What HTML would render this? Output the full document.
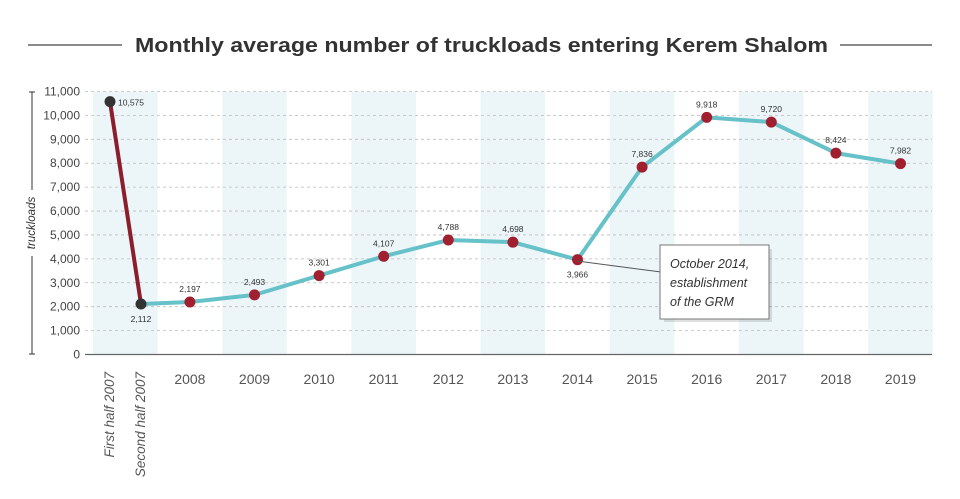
<!DOCTYPE html>
<html><head><meta charset="utf-8"><style>
body{margin:0;background:#fff;width:960px;height:494px;overflow:hidden;font-family:"Liberation Sans",sans-serif}
</style></head><body>
<svg width="960" height="494" viewBox="0 0 960 494">
<g>
<line x1="28" y1="45" x2="122" y2="45" stroke="#444" stroke-width="1.2"/>
<line x1="840" y1="45" x2="932" y2="45" stroke="#444" stroke-width="1.2"/>
<text x="135" y="52" textLength="693" lengthAdjust="spacingAndGlyphs" font-size="20" font-weight="bold" fill="#333">Monthly average number of truckloads entering Kerem Shalom</text>
</g>
<g id="bands"></g>
<g id="grid"></g>
<g>
<line x1="32" y1="92" x2="32" y2="190" stroke="#333"/>
<line x1="32" y1="256" x2="32" y2="354" stroke="#333"/>
<line x1="29" y1="92" x2="35" y2="92" stroke="#333"/>
<line x1="29" y1="354" x2="35" y2="354" stroke="#333"/>
<text transform="translate(35,223) rotate(-90)" text-anchor="middle" font-size="11.5" font-style="italic" fill="#333">truckloads</text>
</g>
<g id="lines"></g>
<g id="points"></g>
<g id="xlabels"></g>
<g>
<line x1="577" y1="261" x2="661" y2="272" stroke="#555" stroke-width="1"/>
<rect x="662" y="247" width="108" height="73" fill="#000" opacity="0.12" transform="translate(2,2)"/>
<rect x="660" y="245" width="109" height="74" fill="#fff" stroke="#777" stroke-width="1"/>
<text font-size="12.5" font-style="italic" fill="#333"><tspan x="670" y="268">October 2014,</tspan><tspan x="670" y="287">establishment</tspan><tspan x="670" y="306">of the GRM</tspan></text>
</g>
</svg>
<script>
const categories=["First half 2007","Second half 2007","2008","2009","2010","2011","2012","2013","2014","2015","2016","2017","2018","2019"];
const values=[10575,2112,2197,2493,3301,4107,4788,4698,3966,7836,9918,9720,8424,7982];
const valueLabels=["10,575","2,112","2,197","2,493","3,301","4,107","4,788","4,698","3,966","7,836","9,918","9,720","8,424","7,982"];
const yTicks=[0,1000,2000,3000,4000,5000,6000,7000,8000,9000,10000,11000];
const yTickLabels=["0","1,000","2,000","3,000","4,000","5,000","6,000","7,000","8,000","9,000","10,000","11,000"];
const NS="http://www.w3.org/2000/svg";
const y0=354.5,yTop=91.5,ymax=11000,left=93,colW=64.6,right=932;
function y(v){return y0-(v/ymax)*(y0-yTop);}
function x(i){if(i===0)return 110;if(i===1)return 141;return left+colW*(i-1)+colW/2;}
function mk(t,a,p){const e=document.createElementNS(NS,t);for(const k in a)e.setAttribute(k,a[k]);p.appendChild(e);return e;}
const bands=document.getElementById('bands');
for(let c=0;c<13;c+=2){const r=mk('rect',{x:left+c*colW,y:yTop,width:colW,height:y0-yTop,fill:'#ecf6f9'},bands);

}
const grid=document.getElementById('grid');
yTicks.forEach((t,i)=>{const l=mk('line',{x1:85,x2:right,y1:y(t),y2:y(t),stroke:i===0?'#666':'#bbb','stroke-dasharray':i===0?'':'3,3','stroke-width':i===0?1.2:0.8},grid);


const tx=mk('text',{x:80,y:y(t)+4,'text-anchor':'end','font-size':12,fill:'#444'},grid);tx.textContent=yTickLabels[i];

});
const lines=document.getElementById('lines');
const red=mk('line',{x1:x(0),y1:y(values[0]),x2:x(1),y2:y(values[1]),stroke:'#8b1e2c','stroke-width':4},lines);


let d='';for(let i=1;i<values.length;i++)d+=(i===1?'M':'L')+x(i)+','+y(values[i]);
const pl=mk('path',{d:d,fill:'none',stroke:'#66c1c8','stroke-width':4,'stroke-linejoin':'round'},lines);


const pts=document.getElementById('points');
values.forEach((v,i)=>{const c=mk('circle',{cx:x(i),cy:y(v),r:5.5,fill:i<2?'#333':'#a1202f'},pts);


let lx=x(i),ly=y(v)-10,anc='middle';
if(i===0){lx=x(i)+8;ly=y(v)+4;anc='start';}
if(i===1||i===8){ly=y(v)+18;}
const t=mk('text',{x:lx,y:ly,'text-anchor':anc,'font-size':8.5,fill:'#333'},pts);t.textContent=valueLabels[i];

});
const xl=document.getElementById('xlabels');
categories.forEach((c,i)=>{let t;
if(i<2){t=mk('text',{transform:'translate('+(x(i)+4)+',372) rotate(-90)','text-anchor':'end','font-size':13.5,'font-style':'italic',fill:'#555'},xl);}
else{t=mk('text',{x:x(i),y:384,'text-anchor':'middle','font-size':14,fill:'#555'},xl);}
t.textContent=c;

});
</script>
</body></html>
